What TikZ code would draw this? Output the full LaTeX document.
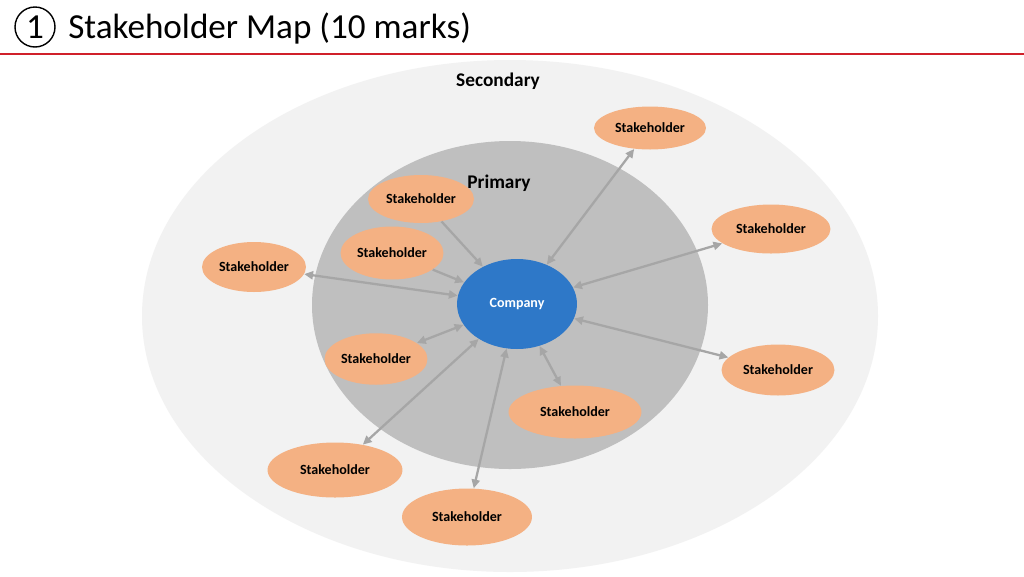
\documentclass[tikz,border=0pt]{standalone}
\usepackage{fontspec}
\setmainfont{Carlito}
\usepackage{tikz}
\usetikzlibrary{shapes.geometric,arrows.meta}
\definecolor{secgray}{HTML}{F2F2F2}
\definecolor{primgray}{HTML}{BFBFBF}
\definecolor{compblue}{HTML}{2E78C8}
\definecolor{stakeorange}{HTML}{F4B183}
\definecolor{linkgray}{HTML}{A6A6A6}
\definecolor{titlered}{HTML}{D0202A}
\begin{document}
\begin{tikzpicture}[x=0.02cm, y=-0.02cm,
			>={Triangle[length=5pt,width=4.6pt]},
			stake/.style={
				ellipse,
				inner sep = 0pt,
				fill = stakeorange,
				font = \fontsize{8}{9}\selectfont\bfseries},
			link/.style={
				draw = linkgray,
				line width = 1.3pt},
			ring/.style={
				font = \fontsize{11}{13}\selectfont\bfseries}]
			\fill[white] (0, 0) rectangle (1024, 576);
			\useasboundingbox (0, 0) rectangle (1024, 576);
			% title
			\node at (35, 27) [circle, draw, line width = 0.8pt, minimum size = 0.8cm, inner sep = 0pt,
				font = \fontsize{20}{24}\selectfont] (num) {1};
			\node at (68, 38) [anchor = base west, inner sep = 0pt,
				font = \fontsize{20}{24}\selectfont] (title) {Stakeholder Map (10 marks)};
			\draw[titlered, line width = 1.2pt] (0, 54) -- (1024, 54);
			% rings
			\fill[secgray] (510, 316) ellipse [x radius = 368, y radius = 256];
			\fill[primgray] (510, 305) ellipse [x radius = 198, y radius = 164];
			\node at (498, 81) [ring] (secondary) {Secondary};
			\node at (499, 183) [ring] (primary) {Primary};
			% nodes
			\node at (517, 304) [ellipse, inner sep = 0pt, fill = compblue, text = white,
				minimum width = 2.4cm, minimum height = 1.8cm,
				font = \fontsize{8}{9}\selectfont\bfseries] (company) {Company};
			\node at (650, 128) [stake, minimum width = 2.24cm, minimum height = 0.86cm] (s1) {Stakeholder};
			\node at (771, 229) [stake, minimum width = 2.38cm, minimum height = 0.98cm] (s2) {Stakeholder};
			\node at (778, 370) [stake, minimum width = 2.26cm, minimum height = 1.02cm] (s3) {Stakeholder};
			\node at (575, 412) [stake, minimum width = 2.66cm, minimum height = 1.06cm] (s4) {Stakeholder};
			\node at (467, 517) [stake, minimum width = 2.6cm, minimum height = 1.14cm] (s5) {Stakeholder};
			\node at (335, 470) [stake, minimum width = 2.7cm, minimum height = 1.1cm] (s6) {Stakeholder};
			\node at (376, 359) [stake, minimum width = 2.06cm, minimum height = 1.03cm] (s7) {Stakeholder};
			\node at (254, 267) [stake, minimum width = 2.08cm, minimum height = 1.0cm] (s8) {Stakeholder};
			\node at (392, 253) [stake, minimum width = 2.06cm, minimum height = 1.06cm] (s9) {Stakeholder};
			\node at (421, 199) [stake, minimum width = 2.12cm, minimum height = 0.96cm] (s10) {Stakeholder};
			% links
			\draw[<->][link] (s1) -- (company);
			\draw[<->][link] (s2) -- (company);
			\draw[<->][link] (s3) -- (company);
			\draw[<->][link] (s4) -- (company);
			\draw[<->][link] (s5) -- (company);
			\draw[<->][link] (s6) -- (company);
			\draw[<->][link] (s7) -- (company);
			\draw[<->][link] (s8) -- (company);
			\draw[->][link] (s9) -- (company);
			\draw[->][link] (s10) -- (company);
\end{tikzpicture}
\end{document}
